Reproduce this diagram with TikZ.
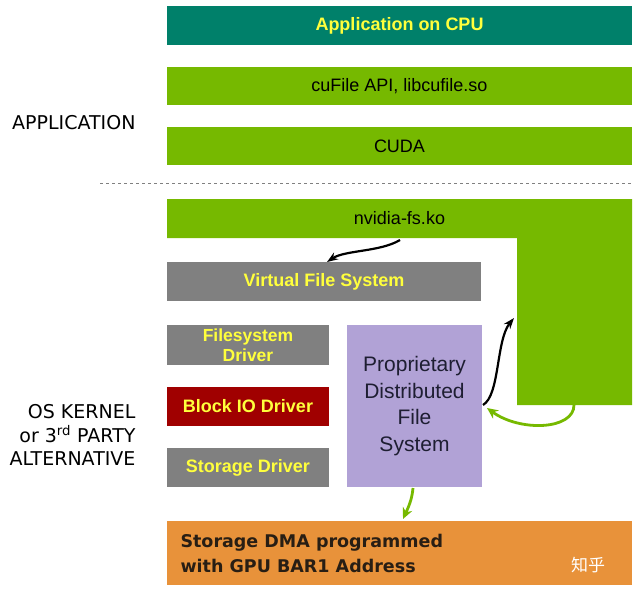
\documentclass[tikz,border=0pt]{standalone}
\usepackage{fontspec}
\setmainfont{Liberation Sans}
\newfontfamily\lab{DejaVu Sans}
\newfontfamily\cjk{Noto Sans CJK SC}
\usetikzlibrary{arrows.meta}
\definecolor{nvg}{RGB}{118,185,0}
\definecolor{teal}{RGB}{0,128,106}
\definecolor{gry}{RGB}{128,128,128}
\definecolor{dred}{RGB}{160,0,0}
\definecolor{lav}{RGB}{177,162,214}
\definecolor{org}{RGB}{232,146,58}
\definecolor{ylw}{RGB}{255,255,60}
\begin{document}
\begin{tikzpicture}[x=1pt,y=-1pt,
  box/.style={inner sep=0pt,font=\fontsize{18}{20}\selectfont},
  lbl/.style={font=\lab\fontsize{19}{24}\selectfont,align=right,anchor=east},
  blk/.style={black,line width=2.2pt,-{Stealth[length=11pt,width=8pt]}},
  grn/.style={nvg,line width=2.8pt,-{Stealth[length=11pt,width=10pt]}}]
\useasboundingbox (0,0) rectangle (638,589);
\fill[teal] (167,6) rectangle (632,45);
\node[box,text=ylw] (app) at (399.5,25.5) {\bfseries Application on CPU};
\fill[nvg] (167,67) rectangle (632,105);
\node[box] (cufile) at (399.5,86) {cuFile API, libcufile.so};
\fill[nvg] (167,127) rectangle (632,165);
\node[box] (cuda) at (399.5,146) {CUDA};
\draw[gray,dashed] (100,183) -- (632,183);
\fill[nvg] (167,199) -- (632,199) -- (632,405) -- (517,405) -- (517,238) -- (167,238) -- cycle;
\node[box] (nvfs) at (399.5,218) {nvidia-fs.ko};
\coordinate (nvb) at (574,405);
\coordinate (nvt) at (400,240);
\coordinate (nvl) at (514,318);
\fill[gry] (167,262) rectangle (481,301);
\node[box,text=ylw] (vfs) at (324,282) {\bfseries Virtual File System};
\fill[gry] (167,325) rectangle (329,365);
\node[box,text=ylw,align=center,font=\fontsize{17.5}{20}\selectfont\bfseries] (fsd) at (248,345) {Filesystem\\Driver};
\fill[dred] (167,387) rectangle (329,426);
\node[box,text=ylw] (bio) at (248,406.5) {\bfseries Block IO Driver};
\fill[gry] (167,448) rectangle (329,487);
\node[box,text=ylw] (sd) at (248,467.5) {\bfseries Storage Driver};
\fill[lav] (347,325) rectangle (482,487);
\node[box,align=center,text={rgb,255:red,30;green,30;blue,50},font=\fontsize{21}{26.5}\selectfont] (pdfs) at (414.5,406) {Proprietary\\Distributed\\File\\System};
\fill[org] (167,521) rectangle (632,585);
\node[anchor=west,align=left,text={rgb,255:red,40;green,30;blue,20},font=\lab\bfseries\fontsize{17.5}{25}\selectfont] (dma) at (177,553) {Storage DMA programmed\\with GPU BAR1 Address};
\node[text=white,font=\cjk\fontsize{17}{19}\selectfont] (zh) at (588,565) {知乎};
\node[lbl] (la) at (139,123) {APPLICATION};
\node[lbl,font=\lab\fontsize{19}{23.5}\selectfont] (lk) at (139,435) {OS KERNEL\\or 3\textsuperscript{rd} PARTY\\ALTERNATIVE};
\draw[blk] (nvt) .. controls (380,252) and (345,250) .. (327,262);
\draw[blk] (483,405) .. controls (500,395) and (496,340) .. (nvl);
\draw[grn] (nvb) .. controls (574,430) and (520,432) .. (487,408);
\draw[grn] (413,488) .. controls (412,500) and (408,508) .. (403,519);
\end{tikzpicture}
\end{document}
